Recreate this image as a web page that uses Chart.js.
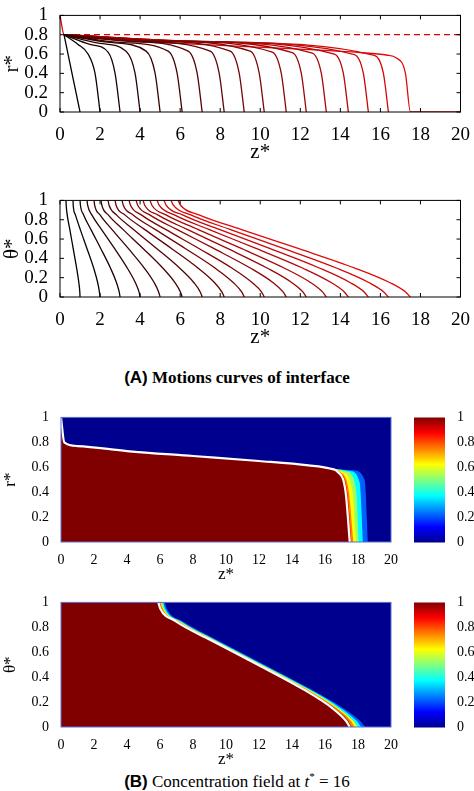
<!DOCTYPE html>
<html>
<head>
<meta charset="utf-8">
<script src="https://cdn.jsdelivr.net/npm/chart.js@4.4.1/dist/chart.umd.min.js"></script>
<style>
  body { margin: 0; background: #fff; width: 474px; height: 791px; position: relative; overflow: hidden; }
  canvas { position: absolute; }
  .cap { position: absolute; left: 0; width: 474px; text-align: center; font-family: 'Liberation Serif', serif; font-size: 17px; }
  .cap b.s { font-family: 'Liberation Sans', Arial, sans-serif; }
</style>
</head>
<body>
<canvas id="c1" style="left:0;top:0"></canvas>
<canvas id="c2" style="left:0;top:185px"></canvas>
<div class="cap" style="top:368px"><b class="s">(A)</b> <b>Motions curves of interface</b></div>
<canvas id="c3" style="left:0;top:405px"></canvas>
<canvas id="b3" style="left:405px;top:405px"></canvas>
<canvas id="c4" style="left:0;top:590px"></canvas>
<canvas id="b4" style="left:405px;top:590px"></canvas>
<div class="cap" style="top:770px"><b class="s">(B)</b> Concentration field at <i>t</i><sup style="font-size:11px">*</sup> = 16</div>
<script>
// ---------- data ----------
// panel 1: r* interface curves, one per time step: [z, r] control points
const rCurves = [
  [[0.2,0.8],[1,0]],
  [[0.2,0.8],[0.9,0.7],[1.4,0.6],[1.75,0.4],[2,0]],
  [[0.2,0.8],[1.5,0.7],[2.4,0.62],[2.75,0.4],[3,0]],
  [[0.2,0.8],[2,0.71],[3.3,0.63],[3.75,0.4],[4,0]],
  [[0.2,0.8],[2.5,0.72],[4.3,0.63],[4.75,0.4],[5,0]],
  [[0.2,0.8],[3,0.72],[5.4,0.63],[5.85,0.4],[6.1,0]],
  [[0.2,0.8],[3.5,0.73],[6.4,0.63],[6.85,0.4],[7.1,0]],
  [[0.2,0.8],[4,0.73],[7.5,0.63],[7.95,0.4],[8.2,0]],
  [[0.2,0.8],[4.5,0.735],[8.5,0.63],[8.95,0.4],[9.2,0]],
  [[0.2,0.8],[5,0.735],[9.5,0.63],[9.95,0.4],[10.2,0]],
  [[0.2,0.8],[5.5,0.735],[10.6,0.62],[11.05,0.4],[11.3,0]],
  [[0.2,0.8],[6,0.735],[11.6,0.615],[12.05,0.4],[12.3,0]],
  [[0.2,0.8],[6.5,0.73],[12.6,0.61],[13.05,0.4],[13.3,0]],
  [[0.2,0.8],[7,0.73],[13.7,0.6],[14.15,0.4],[14.4,0]],
  [[0.2,0.8],[7.5,0.725],[14.7,0.595],[15.15,0.4],[15.4,0]],
  [[0.2,0.8],[8,0.72],[15.7,0.585],[16.15,0.4],[16.4,0]],
  [[0,1],[0.2,0.8],[1,0.77],[4,0.73],[8,0.69],[12,0.65],[15,0.615],[16.3,0.59],[16.8,0.56],[17.25,0.4],[17.5,0],[20,0]]
];
const initialLine = [[0.2,0.8],[20,0.8]];

// panel 2: theta* curves, z at these theta levels
const thetaLevels = [1, 0.95, 0.85, 0.7, 0.5, 0.3, 0.15, 0.05, 0];
const thetaCurves = [
  [0.3,0.31,0.36,0.49,0.66,0.83,0.94,0.99,1],
  [0.65,0.66,0.77,1.01,1.35,1.68,1.88,1.97,2],
  [1,1.02,1.18,1.54,2.04,2.52,2.82,2.96,3],
  [1.35,1.38,1.59,2.07,2.73,3.36,3.76,3.95,4],
  [1.7,1.73,2.0,2.59,3.42,4.21,4.7,4.93,5],
  [2.05,2.09,2.41,3.14,4.16,5.13,5.74,6.02,6.1],
  [2.4,2.45,2.82,3.67,4.84,5.97,6.68,7.01,7.1],
  [2.75,2.8,3.24,4.22,5.58,6.89,7.71,8.09,8.2],
  [3.1,3.16,3.65,4.75,6.27,7.74,8.65,9.08,9.2],
  [3.45,3.52,4.06,5.27,6.96,8.58,9.59,10.07,10.2],
  [3.8,3.88,4.48,5.83,7.7,9.5,10.63,11.15,11.3],
  [4.15,4.23,4.88,6.35,8.39,10.34,11.57,12.14,12.3],
  [4.5,4.59,5.29,6.88,9.08,11.19,12.51,13.12,13.3],
  [4.85,4.95,5.71,7.43,9.82,12.11,13.54,14.21,14.4],
  [5.2,5.3,6.12,7.95,10.5,12.95,14.48,15.2,15.4],
  [5.55,5.66,6.53,8.48,11.19,13.8,15.42,16.18,16.4],
  [5.9,6.02,6.94,9.03,11.93,14.72,16.46,17.27,17.5]
];

// panel 3: concentration bands (r*), outer edge first
const rPlateau = [[0,1],[0.2,0.8],[1,0.77],[4,0.73],[8,0.69],[12,0.65],[15,0.615],[16.3,0.59]];
const rBands = [
  { color: '#0060ff', tail: [[17.7,0.575],[18.4,0.5],[18.6,0]] },
  { color: '#00ffff', tail: [[17.5,0.57],[18.1,0.48],[18.3,0]] },
  { color: '#a0ff60', tail: [[17.3,0.565],[17.85,0.45],[18.05,0]] },
  { color: '#ffff00', tail: [[17.1,0.56],[17.65,0.42],[17.88,0]] },
  { color: '#ff8000', tail: [[16.95,0.56],[17.45,0.4],[17.72,0]] },
  { color: '#ff0000', tail: [[16.85,0.56],[17.35,0.4],[17.6,0]] }
];
const rFrontTail = [[16.8,0.56],[17.25,0.4],[17.5,0]];

// panel 4: concentration bands (theta*), inner edge first, z at thetaLevels
const thetaBands = [
  { color: '#ff8000', z: [5.98,6.1,7.02,9.11,12.01,14.82,16.58,17.41,17.65] },
  { color: '#ffff00', z: [6.05,6.17,7.09,9.18,12.08,14.9,16.71,17.57,17.85] },
  { color: '#00ffff', z: [6.12,6.24,7.16,9.25,12.15,14.99,16.81,17.72,18.05] },
  { color: '#0060ff', z: [6.2,6.32,7.24,9.33,12.23,15.1,16.96,17.92,18.25] },
  { color: '#00008f', z: [6.3,6.42,7.34,9.43,12.33,15.17,17.11,18.12,18.5] }
];
const thetaFront = thetaCurves[thetaCurves.length - 1];

const zTicks = [0, 2, 4, 6, 8, 10, 12, 14, 16, 18, 20];
const yTicks = [0, 0.2, 0.4, 0.6, 0.8, 1];
const cbarTicks = [0, 0.2, 0.4, 0.6, 0.8, 1];

// ---------- helpers ----------
const SERIF = "'Liberation Serif', 'Times New Roman', serif";
const DARKRED = '#800000';
const DARKBLUE = '#00008f';

function toXY(pairs) { return pairs.map(p => ({ x: p[0], y: p[1] })); }
function thetaXY(zs) { return zs.map((z, i) => ({ x: z, y: thetaLevels[i] })); }
function shade(i, n) {
  const t = i / (n - 1);
  return 'rgb(' + Math.round(225 * t) + ',' + Math.round(10 * t) + ',' + Math.round(10 * t) + ')';
}
const fmt = v => String(Math.round(v * 10) / 10);

// box around plot with inward ticks
const frame = {
  id: 'frame',
  afterDraw(chart, args, opts) {
    const { ctx, chartArea: a, scales } = chart;
    ctx.save();
    ctx.strokeStyle = opts.color || '#000';
    ctx.lineWidth = 1;
    ctx.strokeRect(a.left, a.top, a.right - a.left, a.bottom - a.top);
    const len = opts.tick || 0;
    if (len > 0) {
      ctx.beginPath();
      zTicks.forEach(v => {
        const x = scales.x.getPixelForValue(v);
        ctx.moveTo(x, a.bottom); ctx.lineTo(x, a.bottom - len);
        ctx.moveTo(x, a.top); ctx.lineTo(x, a.top + len);
      });
      yTicks.forEach(v => {
        const y = scales.y.getPixelForValue(v);
        ctx.moveTo(a.left, y); ctx.lineTo(a.left + len, y);
        ctx.moveTo(a.right, y); ctx.lineTo(a.right - len, y);
      });
      ctx.stroke();
    }
    ctx.restore();
  }
};

// plot background colour
const plotBg = {
  id: 'plotBg',
  beforeDatasetsDraw(chart, args, opts) {
    if (!opts.color) return;
    const { ctx, chartArea: a } = chart;
    ctx.save();
    ctx.fillStyle = opts.color;
    ctx.fillRect(a.left, a.top, a.right - a.left, a.bottom - a.top);
    ctx.restore();
  }
};

function makeScales(o) {
  return {
    x: {
      type: 'linear', min: 0, max: 20,
      afterBuildTicks: s => { s.ticks = zTicks.map(v => ({ value: v })); },
      afterFit: s => { s.height = o.xh; },
      grid: { display: false }, border: { display: false },
      ticks: { font: { family: SERIF, size: o.fs }, color: '#000', padding: o.tp, maxRotation: 0, autoSkip: false, callback: fmt },
      title: { display: true, text: 'z*', font: { family: SERIF, size: o.ts }, color: '#000', padding: { top: o.ttp, bottom: 0 } }
    },
    y: {
      type: 'linear', min: 0, max: 1,
      afterBuildTicks: s => { s.ticks = yTicks.map(v => ({ value: v })); },
      afterFit: s => { s.width = o.yw; },
      grid: { display: false }, border: { display: false },
      ticks: { font: { family: SERIF, size: o.fs }, color: '#000', padding: 4, autoSkip: false, callback: fmt },
      title: { display: true, text: o.yt, font: { family: SERIF, size: o.ts }, color: '#000', padding: 0 }
    }
  };
}

function lineSet(data, color, width, extra) {
  return Object.assign({
    data: data, borderColor: color, borderWidth: width, pointRadius: 0,
    showLine: true, fill: false, cubicInterpolationMode: 'monotone'
  }, extra || {});
}

function build(id, w, h, datasets, o) {
  const cv = document.getElementById(id);
  cv.width = w; cv.height = h;
  return new Chart(cv.getContext('2d'), {
    type: 'scatter',
    data: { datasets: datasets },
    options: {
      responsive: false, animation: false,
      layout: { padding: o.pad },
      plugins: { legend: { display: false }, tooltip: { enabled: false },
        frame: { tick: o.tick, color: o.frameColor }, plotBg: { color: o.bg } },
      scales: makeScales(o)
    },
    plugins: [plotBg, frame]
  });
}

// ---------- panel 1 ----------
const ds1 = rCurves.map((c, i) => lineSet(toXY(c), shade(i, rCurves.length), 1.3));
ds1.push(lineSet(toXY(initialLine), '#e00000', 1.3, { borderDash: [6, 4] }));
build('c1', 474, 165, ds1, {
  pad: { top: 8, right: 11, left: 0, bottom: 0 }, xh: 53, yw: 60, fs: 19, ts: 21, tp: 4, ttp: 4,
  yt: 'r*', tick: 4
});

// ---------- panel 2 ----------
const ds2 = thetaCurves.map((c, i) => lineSet(thetaXY(c), shade(i, thetaCurves.length), 1.3));
build('c2', 474, 165, ds2, {
  pad: { top: 8, right: 11, left: 0, bottom: 0 }, xh: 53, yw: 60, fs: 19, ts: 21, tp: 4, ttp: 4,
  yt: '\u03B8*', tick: 4
});

// ---------- panel 3 ----------
const ds3 = [];
rBands.forEach(b => {
  ds3.push(lineSet(toXY(rPlateau.concat(b.tail)), b.color, 0, { fill: 'origin', backgroundColor: b.color }));
});
const rFront = toXY(rPlateau.concat(rFrontTail));
ds3.push(lineSet(rFront, DARKRED, 0, { fill: 'origin', backgroundColor: DARKRED }));
ds3.push(lineSet(rFront, '#ffffff', 2.2));
ds3.forEach((d, i) => { d.order = ds3.length - i; });
build('c3', 400, 180, ds3, {
  pad: { top: 12, right: 5, left: 0, bottom: 0 }, xh: 43, yw: 61, fs: 14, ts: 17, tp: 2, ttp: 3,
  yt: 'r*', tick: 0, frameColor: '#5a6ed0', bg: DARKBLUE
});

// ---------- panel 4 ----------
const ds4 = [];
thetaBands.forEach(b => {
  const pts = thetaXY(b.z); pts.push({ x: 20, y: 0 });
  ds4.push(lineSet(pts, b.color, 0, { fill: 'end', backgroundColor: b.color }));
});
ds4.push(lineSet(thetaXY(thetaFront), '#ffffff', 2.2));
ds4.forEach((d, i) => { d.order = ds4.length - i; });
build('c4', 400, 180, ds4, {
  pad: { top: 12, right: 5, left: 0, bottom: 0 }, xh: 43, yw: 61, fs: 14, ts: 17, tp: 2, ttp: 3,
  yt: '\u03B8*', tick: 0, frameColor: '#5a6ed0', bg: DARKRED
});

// ---------- colour bars ----------
function jet(ctx) {
  const a = ctx.chart.chartArea;
  if (!a) return DARKRED;
  const g = ctx.chart.ctx.createLinearGradient(0, a.bottom, 0, a.top);
  g.addColorStop(0, '#00008f');
  g.addColorStop(0.125, '#0000ff');
  g.addColorStop(0.375, '#00ffff');
  g.addColorStop(0.625, '#ffff00');
  g.addColorStop(0.875, '#ff0000');
  g.addColorStop(1, '#800000');
  return g;
}
function colorbar(id) {
  const cv = document.getElementById(id);
  cv.width = 69; cv.height = 150;
  new Chart(cv.getContext('2d'), {
    type: 'bar',
    data: { labels: [''], datasets: [{ data: [1], backgroundColor: jet, barPercentage: 1, categoryPercentage: 1 }] },
    options: {
      responsive: false, animation: false,
      layout: { padding: { top: 12, left: 9, bottom: 0, right: 0 } },
      plugins: { legend: { display: false }, tooltip: { enabled: false } },
      scales: {
        x: { display: false },
        y: {
          position: 'right', min: 0, max: 1,
          afterBuildTicks: s => { s.ticks = cbarTicks.map(v => ({ value: v })); },
          afterFit: s => { s.width = 29; },
          grid: { display: false }, border: { display: false },
          ticks: { font: { family: SERIF, size: 14 }, color: '#000', padding: 4, autoSkip: false, callback: fmt }
        }
      }
    }
  });
}
colorbar('b3');
colorbar('b4');
</script>
</body>
</html>
